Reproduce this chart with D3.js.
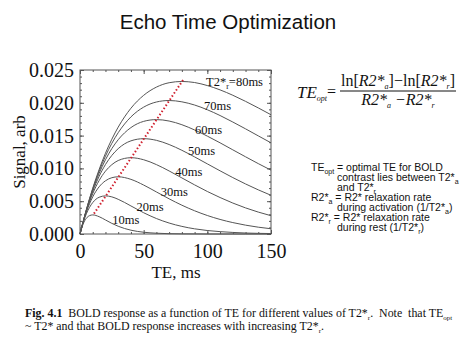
<!DOCTYPE html>
<html><head><meta charset="utf-8">
<script src="https://cdn.jsdelivr.net/npm/d3@7"></script>
<style>body{margin:0;background:#fff}svg{display:block}text{white-space:pre}</style>
</head><body>
<script>
const teValues = [0, 2.5, 5, 7.5, 10, 15, 20, 25, 30, 40, 50, 60, 70, 80, 90, 100, 110, 120, 130, 140, 150];
const seriesNames = ["10ms","20ms","30ms","40ms","50ms","60ms","70ms","T2*r=80ms"];
const s10 = [0,0.00154,0.00240,0.00280,0.00291,0.00264,0.00214,0.00162,0.00118,0.00058,0.00027,0.00012,0.00005,0.00002,0.00001,0,0,0,0,0,0];
const s20 = [0,0.00174,0.00308,0.00407,0.00479,0.00560,0.00581,0.00566,0.00529,0.00428,0.00324,0.00236,0.00167,0.00116,0.00079,0.00053,0.00036,0.00024,0.00015,0.00010,0.00007];
const s30 = [0,0.00182,0.00334,0.00461,0.00566,0.00719,0.00811,0.00858,0.00872,0.00833,0.00746,0.00641,0.00536,0.00439,0.00354,0.00282,0.00222,0.00174,0.00135,0.00104,0.00080];
const s40 = [0,0.00186,0.00349,0.00491,0.00615,0.00814,0.00958,0.01057,0.01120,0.01163,0.01132,0.01058,0.00961,0.00855,0.00749,0.00648,0.00556,0.00472,0.00398,0.00334,0.00279];
const s50 = [0,0.00188,0.00357,0.00510,0.00647,0.00878,0.01059,0.01198,0.01301,0.01420,0.01453,0.01428,0.01364,0.01276,0.01175,0.01069,0.00963,0.00860,0.00763,0.00673,0.00590];
const s60 = [0,0.00189,0.00363,0.00523,0.00669,0.00923,0.01132,0.01302,0.01437,0.01622,0.01717,0.01744,0.01722,0.01666,0.01586,0.01492,0.01390,0.01283,0.01177,0.01073,0.00973];
const s70 = [0,0.00191,0.00368,0.00532,0.00685,0.00956,0.01187,0.01382,0.01544,0.01785,0.01934,0.02012,0.02035,0.02015,0.01966,0.01894,0.01806,0.01707,0.01603,0.01496,0.01390];
const s80 = [0,0.00191,0.00371,0.00540,0.00697,0.00982,0.01231,0.01445,0.01629,0.01917,0.02114,0.02239,0.02306,0.02325,0.02309,0.02263,0.02197,0.02115,0.02022,0.01922,0.01818];
const seriesValues = [s10, s20, s30, s40, s50, s60, s70, s80];
const labelTE = [36, 55, 74, 85.5, 95.5, 101, 108, 143.7];
const labelSig = [0.00152, 0.00351, 0.00579, 0.00884, 0.0120, 0.01524, 0.0189, 0.02256];
const optTE = [11, 81];
const optSig = [0.0031, 0.0235];
const xTicks = [0, 50, 100, 150];
const yTicks = [0, 0.005, 0.010, 0.015, 0.020, 0.025];

const W = 474, H = 355;
const svg = d3.select("body").append("svg").attr("width", W).attr("height", H);
const x = d3.scaleLinear().domain([0, 150]).range([80, 271]);
const y = d3.scaleLinear().domain([0, 0.025]).range([234, 70]);
const serif = "'Liberation Serif','Times New Roman',serif";
const sans = "'Liberation Sans',Arial,Helvetica,sans-serif";

svg.append("text").attr("x", 228).attr("y", 29).attr("text-anchor", "middle")
  .attr("font-family", sans).attr("font-size", 20.5).attr("fill", "#111").text("Echo Time Optimization");

svg.append("rect").attr("x", 80).attr("y", 70).attr("width", 191).attr("height", 164)
  .attr("fill", "none").attr("stroke", "#555").attr("stroke-width", 1);

function styleAxis(g) {
  g.select(".domain").remove();
  g.selectAll(".tick line").attr("stroke", "#555");
}
const xMinor = d3.range(0, 151, 10);
const yMinor = d3.range(0, 0.02501, 0.001);
const gb = svg.append("g").attr("transform", "translate(0,234)")
  .call(d3.axisBottom(x).tickValues(xTicks).tickSize(-4).tickPadding(10).tickFormat(d3.format("d")));
gb.call(styleAxis);
gb.selectAll("text").attr("font-family", serif).attr("font-size", 20).attr("fill", "#111");
svg.append("g").attr("transform", "translate(0,234)")
  .call(d3.axisBottom(x).tickValues(xMinor).tickSize(-2).tickFormat("")).call(styleAxis);
svg.append("g").attr("transform", "translate(0,70)")
  .call(d3.axisTop(x).tickValues(xTicks).tickSize(-4).tickFormat("")).call(styleAxis);
svg.append("g").attr("transform", "translate(0,70)")
  .call(d3.axisTop(x).tickValues(xMinor).tickSize(-2).tickFormat("")).call(styleAxis);
const gl = svg.append("g").attr("transform", "translate(80,0)")
  .call(d3.axisLeft(y).tickValues(yTicks).tickSize(-4).tickPadding(6).tickFormat(d3.format(".3f")));
gl.call(styleAxis);
gl.selectAll("text").attr("font-family", serif).attr("font-size", 20).attr("fill", "#111");
svg.append("g").attr("transform", "translate(80,0)")
  .call(d3.axisLeft(y).tickValues(yMinor).tickSize(-2).tickFormat("")).call(styleAxis);
svg.append("g").attr("transform", "translate(271,0)")
  .call(d3.axisRight(y).tickValues(yTicks).tickSize(-4).tickFormat("")).call(styleAxis);
svg.append("g").attr("transform", "translate(271,0)")
  .call(d3.axisRight(y).tickValues(yMinor).tickSize(-2).tickFormat("")).call(styleAxis);

svg.append("text").attr("x", 176).attr("y", 278).attr("text-anchor", "middle")
  .attr("font-family", serif).attr("font-size", 17).attr("fill", "#111").text("TE, ms");
svg.append("text").attr("transform", "translate(25,152) rotate(-90)").attr("text-anchor", "middle")
  .attr("font-family", serif).attr("font-size", 17).attr("fill", "#111").text("Signal, arb");

const line = d3.line().x((d, i) => x(teValues[i])).y(d => y(d)).curve(d3.curveMonotoneX);
svg.append("g").selectAll("path").data(seriesValues).join("path")
  .attr("d", line).attr("fill", "none").attr("stroke", "#555").attr("stroke-width", 1);

svg.append("path").datum(optTE.map((t, i) => [t, optSig[i]]))
  .attr("d", d3.line().x(d => x(d[0])).y(d => y(d[1])))
  .attr("stroke", "#d0202e").attr("stroke-width", 2).attr("stroke-dasharray", "1.5,2.2").attr("fill", "none");

function rich(t, parts, subSize, shift) {
  const s = shift || 3;
  let shifted = false;
  parts.forEach(p => {
    const sp = t.append("tspan");
    if (typeof p === "string") {
      if (shifted) { sp.attr("dy", -s); shifted = false; }
      sp.text(p);
    } else {
      sp.attr("font-size", subSize).attr("dy", shifted ? 0 : s).text(p.sub);
      shifted = true;
    }
  });
  return t;
}

const lab = svg.append("g").attr("font-family", serif).attr("font-size", 12.5).attr("fill", "#111");
seriesNames.forEach((n, i) => {
  const t = lab.append("text").attr("x", x(labelTE[i])).attr("y", y(labelSig[i]))
    .attr("text-anchor", i === 7 ? "end" : "middle");
  if (i === 7) rich(t, ["T2*", {sub: "r"}, "=80ms"], 8);
  else t.text(n);
});

const f = svg.append("g").attr("font-family", serif).attr("fill", "#111").attr("font-size", 16);
rich(f.append("text").attr("x", 297).attr("y", 98).attr("font-style", "italic").attr("font-size", 17), ["TE", {sub: "opt"}], 8);
f.append("text").attr("x", 327).attr("y", 97).text("=");
const num = f.append("text").attr("x", 398).attr("y", 86).attr("text-anchor", "middle");
num.append("tspan").text("ln[");
num.append("tspan").attr("font-style", "italic").text("R2*");
num.append("tspan").attr("font-size", 8).attr("font-style", "italic").attr("dy", 3).text("a");
num.append("tspan").attr("dy", -3).text("]\u2212ln[");
num.append("tspan").attr("font-style", "italic").text("R2*");
num.append("tspan").attr("font-size", 8).attr("font-style", "italic").attr("dy", 3).text("r");
num.append("tspan").attr("dy", -3).text("]");
f.append("line").attr("x1", 340).attr("x2", 456).attr("y1", 91).attr("y2", 91).attr("stroke", "#111").attr("stroke-width", 1);
const den = f.append("text").attr("x", 398).attr("y", 105).attr("text-anchor", "middle").attr("font-style", "italic");
rich(den, ["R2*", {sub: "a"}, " \u2212R2*", {sub: "r"}], 8);

const d = svg.append("g").attr("font-family", sans).attr("font-size", 10.5).attr("fill", "#111");
const descLines = [
  [311, 171, ["TE", {sub: "opt"}, " = optimal TE for BOLD"]],
  [337, 181, ["contrast lies between T2*", {sub: "a"}]],
  [337, 191, ["and T2*", {sub: "r"}]],
  [311, 201, ["R2*", {sub: "a"}, " = R2* relaxation rate"]],
  [337, 211, ["during activation (1/T2*", {sub: "a"}, ")"]],
  [311, 221, ["R2*", {sub: "r"}, " = R2* relaxation rate"]],
  [337, 231, ["during rest (1/T2*", {sub: "r"}, ")"]]
];
descLines.forEach(([xp, yp, parts]) => rich(d.append("text").attr("x", xp).attr("y", yp), parts, 7, 2.5));

const c = svg.append("g").attr("font-family", serif).attr("font-size", 11.9).attr("fill", "#111");
const c1 = c.append("text").attr("x", 25).attr("y", 317);
c1.append("tspan").attr("font-weight", "bold").text("Fig. 4.1");
rich(c1, ["  BOLD response as a function of TE for different values of T2*", {sub: "r"}, ".  Note  that TE", {sub: "opt"}], 7);
rich(c.append("text").attr("x", 25).attr("y", 330), ["~ T2* and that BOLD response increases with increasing T2*", {sub: "r"}, "."], 7);
</script>
</body></html>
